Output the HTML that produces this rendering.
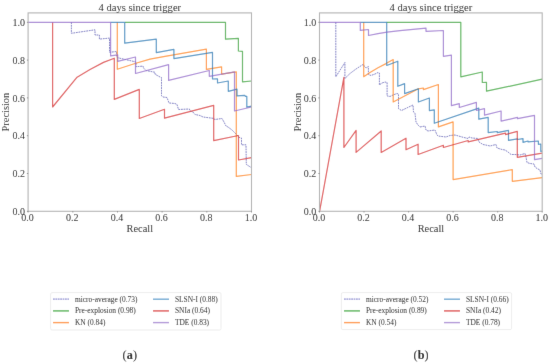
<!DOCTYPE html>
<html><head><meta charset="utf-8"><title>4 days since trigger</title>
<style>
html,body{margin:0;padding:0;background:#fff;}
body{width:550px;height:364px;overflow:hidden;position:relative;}
svg{position:absolute;left:0;top:0;}
text{font-family:"Liberation Serif","DejaVu Serif",serif;fill:#161616;}
.tk{font-size:10px;}
.lab{font-size:10.4px;}
.ttl{font-size:10.6px;}
.lg{font-size:7.4px;}
.cap{font-family:"Liberation Serif",serif;font-size:12.3px;font-weight:bold;fill:#000;}
</style></head>
<body>
<svg width="550" height="364" viewBox="0 0 550 364">
<defs><filter id="bl" x="0" y="0" width="550" height="364" filterUnits="userSpaceOnUse" primitiveUnits="userSpaceOnUse"><feConvolveMatrix order="3" kernelMatrix="0.00524 0.06192 0.00524 0.06192 0.73137 0.06192 0.00524 0.06192 0.00524" divisor="1" preserveAlpha="true" edgeMode="duplicate"/></filter></defs>
<rect width="550" height="364" fill="#fff"/>
<g filter="url(#bl)">
<rect width="550" height="364" fill="#fff"/>
<polyline points="71.4,22.3 71.4,33.3 95.0,29.8 95.0,35.0 99.4,35.0 99.4,39.1 109.5,38.1 109.5,52.3 116.5,51.5 117.0,57.5 121.0,58.5 134.0,61.5 136.0,62.0 136.0,66.7 143.0,66.1 143.5,68.0 146.0,70.5 155.0,72.3 155.0,74.2 160.0,77.0 161.5,77.5 161.5,95.8 163.0,97.0 167.0,97.5 169.0,103.0 175.0,103.5 177.0,104.5 178.5,109.5 189.4,109.0 190.0,111.0 193.0,112.0 195.0,114.5 200.0,115.5 203.0,117.0 213.0,118.3 215.0,119.5 222.0,118.5 224.0,122.0 226.0,126.0 228.0,127.0 232.0,130.0 234.0,132.0 236.0,134.0 240.0,138.0 241.5,138.0 241.5,144.8 246.0,144.8 246.3,164.4 250.8,167.3 251.5,167.5" fill="none" stroke="#6464b8" stroke-width="1.0" stroke-dasharray="1.8 0.8" stroke-opacity="0.85"/>
<polyline points="125.0,22.3 225.5,22.3 225.5,39.2 238.4,38.3 238.4,51.0 242.5,51.3 242.5,81.8 251.5,81.0" fill="none" stroke="#2ca02c" stroke-width="1.2" stroke-opacity="0.77" stroke-linejoin="round"/>
<polyline points="117.3,22.3 117.3,69.3 135.0,63.5 150.0,59.2 165.0,56.3 206.4,49.1 206.4,69.4 221.6,66.8 221.6,74.1 236.3,71.9 236.3,176.4 251.5,174.5" fill="none" stroke="#ff7f0e" stroke-width="1.2" stroke-opacity="0.77" stroke-linejoin="round"/>
<polyline points="110.6,22.3 124.7,22.3 124.7,43.2 156.3,39.1 156.3,52.6 173.9,49.4 173.9,58.6 212.5,52.4 212.5,79.0 217.5,78.8 217.5,83.0 228.3,81.0 228.3,91.3 237.0,89.1 237.0,95.9 244.7,95.3 245.5,96.4 246.8,96.4 246.8,107.2 251.5,106.2" fill="none" stroke="#1f77b4" stroke-width="1.2" stroke-opacity="0.77" stroke-linejoin="round"/>
<polyline points="52.6,22.3 52.6,107.0 77.1,77.2 90.0,69.5 103.5,62.4 114.3,58.2 114.3,99.4 139.3,89.4 139.3,118.5 164.5,109.3 164.5,118.2 213.7,105.4 213.7,140.7 238.5,135.5 238.5,160.0 251.5,157.6" fill="none" stroke="#d62728" stroke-width="1.2" stroke-opacity="0.77" stroke-linejoin="round"/>
<polyline points="28.1,22.3 110.6,22.3 110.6,55.9 117.7,54.8 117.7,61.4 135.5,57.0 135.5,73.5 168.6,64.7 168.6,80.4 209.3,70.5 209.3,76.3 234.5,71.9 234.5,111.0 251.5,107.0" fill="none" stroke="#8f66c8" stroke-width="1.2" stroke-opacity="0.77" stroke-linejoin="round"/>
<rect x="28.1" y="12.9" width="223.4" height="198.4" fill="none" stroke="#b2b2b2" stroke-width="1.1"/>
<line x1="28.1" y1="211.3" x2="28.1" y2="212.5" stroke="#555" stroke-width="0.6"/>
<line x1="26.900000000000002" y1="211.3" x2="28.1" y2="211.3" stroke="#555" stroke-width="0.6"/>
<text class="tk" x="27.6" y="220.6" text-anchor="middle">0.0</text>
<text class="tk" x="24.9" y="215.0" text-anchor="end">0.0</text>
<line x1="72.8" y1="211.3" x2="72.8" y2="212.5" stroke="#555" stroke-width="0.6"/>
<line x1="26.900000000000002" y1="173.5" x2="28.1" y2="173.5" stroke="#555" stroke-width="0.6"/>
<text class="tk" x="72.3" y="220.6" text-anchor="middle">0.2</text>
<text class="tk" x="24.9" y="177.2" text-anchor="end">0.2</text>
<line x1="117.5" y1="211.3" x2="117.5" y2="212.5" stroke="#555" stroke-width="0.6"/>
<line x1="26.900000000000002" y1="135.7" x2="28.1" y2="135.7" stroke="#555" stroke-width="0.6"/>
<text class="tk" x="117.0" y="220.6" text-anchor="middle">0.4</text>
<text class="tk" x="24.9" y="139.4" text-anchor="end">0.4</text>
<line x1="162.1" y1="211.3" x2="162.1" y2="212.5" stroke="#555" stroke-width="0.6"/>
<line x1="26.900000000000002" y1="97.9" x2="28.1" y2="97.9" stroke="#555" stroke-width="0.6"/>
<text class="tk" x="161.6" y="220.6" text-anchor="middle">0.6</text>
<text class="tk" x="24.9" y="101.6" text-anchor="end">0.6</text>
<line x1="206.8" y1="211.3" x2="206.8" y2="212.5" stroke="#555" stroke-width="0.6"/>
<line x1="26.900000000000002" y1="60.1" x2="28.1" y2="60.1" stroke="#555" stroke-width="0.6"/>
<text class="tk" x="206.3" y="220.6" text-anchor="middle">0.8</text>
<text class="tk" x="24.9" y="63.8" text-anchor="end">0.8</text>
<line x1="251.5" y1="211.3" x2="251.5" y2="212.5" stroke="#555" stroke-width="0.6"/>
<line x1="26.900000000000002" y1="22.3" x2="28.1" y2="22.3" stroke="#555" stroke-width="0.6"/>
<text class="tk" x="251.0" y="220.6" text-anchor="middle">1.0</text>
<text class="tk" x="24.9" y="26.0" text-anchor="end">1.0</text>
<text class="ttl" x="139.8" y="10.8" text-anchor="middle">4 days since trigger</text>
<text class="lab" x="139.8" y="231.6" text-anchor="middle">Recall</text>
<text class="lab" transform="translate(9.1,112.1) rotate(-90)" text-anchor="middle">Precision</text>
<rect x="50.6" y="292.6" width="170.4" height="37.4" rx="1.5" fill="#fff" stroke="#e8e8e8" stroke-width="0.8"/>
<line x1="53" y1="299.2" x2="69" y2="299.2" stroke="#aeaede" stroke-width="1.8" stroke-dasharray="1.8 0.6"/>
<text class="lg" x="75" y="301.7">micro-average (0.73)</text>
<line x1="53" y1="310.9" x2="69" y2="310.9" stroke="#56b356" stroke-width="1.4"/>
<text class="lg" x="75" y="313.4">Pre-explosion (0.98)</text>
<line x1="53" y1="322.6" x2="69" y2="322.6" stroke="#ff9a46" stroke-width="1.4"/>
<text class="lg" x="75" y="325.1">KN (0.84)</text>
<line x1="153" y1="299.2" x2="169" y2="299.2" stroke="#6ea8d2" stroke-width="1.4"/>
<text class="lg" x="175" y="301.7">SLSN-I (0.88)</text>
<line x1="153" y1="310.9" x2="169" y2="310.9" stroke="#de5253" stroke-width="1.4"/>
<text class="lg" x="175" y="313.4">SNIa (0.64)</text>
<line x1="153" y1="322.6" x2="169" y2="322.6" stroke="#b196d8" stroke-width="1.4"/>
<text class="lg" x="175" y="325.1">TDE (0.83)</text>
<polyline points="335.8,22.3 335.8,76.8 344.9,62.5 344.9,78.5 350.0,73.5 356.0,69.0 363.3,64.3 364.5,66.5 366.0,68.0 368.4,66.5 368.4,74.5 371.0,75.5 375.0,74.0 378.0,72.5 379.4,73.0 379.4,84.9 382.0,83.0 385.0,82.0 387.1,82.5 387.1,95.9 390.0,96.5 393.0,95.0 397.0,93.5 398.5,94.0 398.5,108.6 401.5,110.5 413.0,105.0 413.5,112.0 415.0,113.5 416.0,122.0 418.0,125.0 420.0,127.0 425.0,126.0 426.0,130.0 428.0,131.0 435.0,130.0 437.0,135.0 438.0,136.0 446.0,137.0 450.0,135.5 455.0,135.0 462.0,137.0 468.0,138.5 469.0,137.0 472.0,138.0 478.0,138.5 479.0,142.0 483.0,144.5 488.0,145.5 490.0,146.0 496.0,144.5 497.0,148.0 502.0,149.5 505.0,150.0 508.0,152.0 511.0,154.5 515.0,154.5 520.0,155.0 525.0,153.5 526.0,157.0 527.0,162.5 530.0,163.5 534.0,164.0 535.0,167.0 537.0,168.5 540.0,170.0 541.0,174.0 542.2,174.5" fill="none" stroke="#6464b8" stroke-width="1.0" stroke-dasharray="1.8 0.8" stroke-opacity="0.85"/>
<polyline points="386.7,22.3 460.8,22.3 460.8,76.8 482.3,72.0 482.3,82.5 486.5,82.3 486.5,91.2 542.2,79.2" fill="none" stroke="#2ca02c" stroke-width="1.2" stroke-opacity="0.77" stroke-linejoin="round"/>
<polyline points="363.7,22.3 363.7,76.7 370.0,72.6 378.0,67.8 386.0,63.6 393.2,59.6 393.2,102.0 418.4,88.8 423.4,88.0 423.4,89.6 438.4,84.5 438.4,126.9 453.1,121.9 453.1,179.6 512.3,169.6 512.3,181.3 542.2,177.7" fill="none" stroke="#ff7f0e" stroke-width="1.2" stroke-opacity="0.77" stroke-linejoin="round"/>
<polyline points="360.3,22.3 386.7,22.3 386.7,65.5 397.8,61.2 397.8,86.3 404.6,83.6 404.6,93.6 418.4,88.8 418.4,102.0 429.4,98.0 429.4,110.6 434.3,109.8 434.3,123.3 478.8,108.1 478.8,119.2 488.2,117.3 488.2,132.6 497.3,131.5 497.3,132.6 508.5,130.4 508.5,140.4 517.5,138.8 517.5,139.5 523.0,138.6 523.0,142.3 528.0,141.0 528.0,141.8 538.4,141.0 538.4,144.3 540.8,144.0 540.8,151.4 542.2,151.2" fill="none" stroke="#1f77b4" stroke-width="1.2" stroke-opacity="0.77" stroke-linejoin="round"/>
<polyline points="319.6,211.3 343.9,77.4 343.9,147.5 356.1,130.4 356.1,152.4 381.2,131.0 381.2,152.4 406.0,138.2 406.0,149.7 418.1,144.2 418.1,154.5 443.4,145.3 443.4,147.5 468.2,140.5 468.2,141.9 505.5,133.1 505.5,134.6 517.3,131.3 517.3,157.3 542.2,153.1" fill="none" stroke="#d62728" stroke-width="1.2" stroke-opacity="0.77" stroke-linejoin="round"/>
<polyline points="319.5,22.3 360.3,22.3 360.3,30.4 368.5,29.5 368.5,35.5 378.0,33.6 387.0,32.2 400.0,30.6 413.0,29.3 426.0,28.2 426.0,31.3 443.4,30.5 443.4,56.3 451.4,55.2 451.4,105.7 459.3,103.6 459.3,107.5 476.4,102.4 476.4,110.5 484.5,108.6 484.5,115.2 501.1,111.0 501.1,121.1 517.5,117.4 517.5,118.7 534.5,115.4 534.5,159.7 542.2,158.4" fill="none" stroke="#8f66c8" stroke-width="1.2" stroke-opacity="0.77" stroke-linejoin="round"/>
<rect x="319.5" y="12.9" width="222.7" height="198.4" fill="none" stroke="#b2b2b2" stroke-width="1.1"/>
<line x1="319.5" y1="211.3" x2="319.5" y2="212.5" stroke="#555" stroke-width="0.6"/>
<line x1="318.3" y1="211.3" x2="319.5" y2="211.3" stroke="#555" stroke-width="0.6"/>
<text class="tk" x="319.0" y="220.6" text-anchor="middle">0.0</text>
<text class="tk" x="316.3" y="215.0" text-anchor="end">0.0</text>
<line x1="364.0" y1="211.3" x2="364.0" y2="212.5" stroke="#555" stroke-width="0.6"/>
<line x1="318.3" y1="173.5" x2="319.5" y2="173.5" stroke="#555" stroke-width="0.6"/>
<text class="tk" x="363.5" y="220.6" text-anchor="middle">0.2</text>
<text class="tk" x="316.3" y="177.2" text-anchor="end">0.2</text>
<line x1="408.6" y1="211.3" x2="408.6" y2="212.5" stroke="#555" stroke-width="0.6"/>
<line x1="318.3" y1="135.7" x2="319.5" y2="135.7" stroke="#555" stroke-width="0.6"/>
<text class="tk" x="408.1" y="220.6" text-anchor="middle">0.4</text>
<text class="tk" x="316.3" y="139.4" text-anchor="end">0.4</text>
<line x1="453.1" y1="211.3" x2="453.1" y2="212.5" stroke="#555" stroke-width="0.6"/>
<line x1="318.3" y1="97.9" x2="319.5" y2="97.9" stroke="#555" stroke-width="0.6"/>
<text class="tk" x="452.6" y="220.6" text-anchor="middle">0.6</text>
<text class="tk" x="316.3" y="101.6" text-anchor="end">0.6</text>
<line x1="497.7" y1="211.3" x2="497.7" y2="212.5" stroke="#555" stroke-width="0.6"/>
<line x1="318.3" y1="60.1" x2="319.5" y2="60.1" stroke="#555" stroke-width="0.6"/>
<text class="tk" x="497.2" y="220.6" text-anchor="middle">0.8</text>
<text class="tk" x="316.3" y="63.8" text-anchor="end">0.8</text>
<line x1="542.2" y1="211.3" x2="542.2" y2="212.5" stroke="#555" stroke-width="0.6"/>
<line x1="318.3" y1="22.3" x2="319.5" y2="22.3" stroke="#555" stroke-width="0.6"/>
<text class="tk" x="541.7" y="220.6" text-anchor="middle">1.0</text>
<text class="tk" x="316.3" y="26.0" text-anchor="end">1.0</text>
<text class="ttl" x="430.9" y="10.8" text-anchor="middle">4 days since trigger</text>
<text class="lab" x="430.9" y="231.6" text-anchor="middle">Recall</text>
<text class="lab" transform="translate(300.5,112.1) rotate(-90)" text-anchor="middle">Precision</text>
<rect x="341.4" y="292.6" width="170.2" height="37.0" rx="1.5" fill="#fff" stroke="#e8e8e8" stroke-width="0.8"/>
<line x1="344" y1="299.2" x2="360" y2="299.2" stroke="#aeaede" stroke-width="1.8" stroke-dasharray="1.8 0.6"/>
<text class="lg" x="366" y="301.7">micro-average (0.52)</text>
<line x1="344" y1="310.9" x2="360" y2="310.9" stroke="#56b356" stroke-width="1.4"/>
<text class="lg" x="366" y="313.4">Pre-explosion (0.89)</text>
<line x1="344" y1="322.6" x2="360" y2="322.6" stroke="#ff9a46" stroke-width="1.4"/>
<text class="lg" x="366" y="325.1">KN (0.54)</text>
<line x1="444" y1="299.2" x2="460" y2="299.2" stroke="#6ea8d2" stroke-width="1.4"/>
<text class="lg" x="466" y="301.7">SLSN-I (0.66)</text>
<line x1="444" y1="310.9" x2="460" y2="310.9" stroke="#de5253" stroke-width="1.4"/>
<text class="lg" x="466" y="313.4">SNIa (0.42)</text>
<line x1="444" y1="322.6" x2="460" y2="322.6" stroke="#b196d8" stroke-width="1.4"/>
<text class="lg" x="466" y="325.1">TDE (0.78)</text>
<text class="cap" x="129.8" y="359" text-anchor="middle"><tspan font-weight="normal">(</tspan>a<tspan font-weight="normal">)</tspan></text>
<text class="cap" x="421.1" y="359" text-anchor="middle"><tspan font-weight="normal">(</tspan>b<tspan font-weight="normal">)</tspan></text>
</g>
</svg>
</body></html>
